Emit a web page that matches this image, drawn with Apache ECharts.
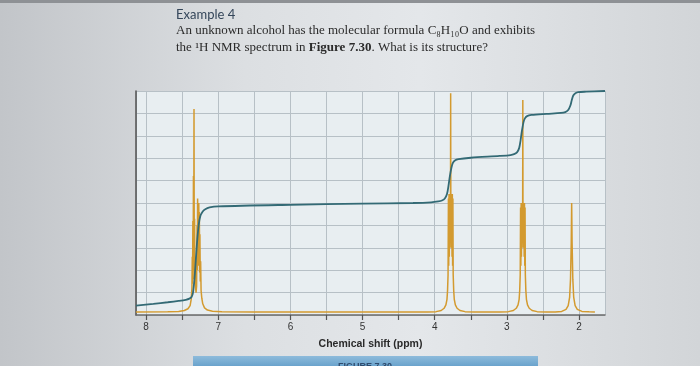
<!DOCTYPE html>
<html>
<head>
<meta charset="utf-8">
<script src="https://cdn.jsdelivr.net/npm/echarts@6/dist/echarts.min.js"></script>
<style>
  html, body { margin: 0; padding: 0; }
  #chart { width: 700px; height: 366px; }
</style>
</head>
<body>
<div id="chart"></div>
<script>
// ---- Data ----
const xRange = [1.64, 8.14];               // ppm shown (axis inverted)
const tickLabels = [8, 7, 6, 5, 4, 3, 2];  // labelled ticks

// 1H NMR spectrum trace [ppm, intensity]
const spectrum = [
  [8.14,0.13],[7.70,0.14],[7.55,0.16],[7.47,0.2],[7.42,0.28],[7.39,0.42],[7.375,0.7],[7.365,1.2],
  [7.360,2.6],[7.356,1.4],[7.352,4.2],[7.348,1.6],[7.344,6.2],[7.340,2.0],[7.336,9.2],
  [7.332,2.0],[7.328,4.3],[7.324,1.8],[7.320,2.6],[7.315,1.3],[7.308,1.0],[7.300,1.3],
  [7.294,4.0],[7.290,2.0],[7.286,5.2],[7.282,2.3],[7.278,4.4],[7.274,2.2],[7.270,5.0],
  [7.266,2.2],[7.262,4.6],[7.258,1.9],[7.254,3.6],[7.249,1.5],[7.244,2.4],[7.238,1.1],
  [7.228,0.75],[7.215,0.5],[7.19,0.32],[7.15,0.22],[7.08,0.17],[6.95,0.14],[6.5,0.13],
  [4.10,0.13],[3.98,0.15],[3.91,0.2],[3.87,0.3],[3.845,0.45],[3.83,0.7],[3.822,1.1],[3.815,1.8],
  [3.810,5.2],[3.806,2.2],[3.802,5.4],[3.798,2.6],[3.794,5.3],[3.790,3.0],[3.786,5.4],
  [3.782,3.2],[3.779,9.9],[3.776,3.2],[3.772,5.4],[3.768,3.0],[3.764,5.3],[3.760,2.6],
  [3.756,5.4],[3.752,2.2],[3.748,5.2],[3.744,1.8],[3.737,1.1],[3.729,0.7],[3.714,0.45],
  [3.69,0.3],[3.65,0.2],[3.58,0.15],[3.45,0.13],
  [3.10,0.13],[2.98,0.15],[2.91,0.2],[2.87,0.3],[2.845,0.45],[2.83,0.7],[2.822,1.1],[2.815,1.8],
  [2.810,4.8],[2.806,2.2],[2.802,5.0],[2.798,2.6],[2.794,4.9],[2.790,3.0],[2.786,5.0],
  [2.782,3.2],[2.779,9.6],[2.776,3.2],[2.772,5.0],[2.768,3.0],[2.764,4.9],[2.760,2.6],
  [2.756,5.0],[2.752,2.2],[2.748,4.8],[2.744,1.8],[2.737,1.1],[2.729,0.7],[2.714,0.45],
  [2.69,0.3],[2.65,0.2],[2.58,0.15],[2.45,0.13],
  [2.33,0.13],[2.24,0.16],[2.18,0.25],[2.15,0.42],[2.13,0.8],[2.118,1.6],[2.108,3.2],
  [2.102,5.0],[2.096,3.2],[2.086,1.6],[2.074,0.8],[2.054,0.42],[2.024,0.25],[1.96,0.16],
  [1.86,0.14],[1.78,0.13]
];

// Integration curve [ppm, value]
const integral = [
  [8.14,0.42],[7.90,0.5],[7.70,0.57],[7.55,0.63],[7.45,0.68],[7.40,0.73],[7.37,0.8],[7.35,1.0],
  [7.33,1.6],[7.31,2.5],[7.29,3.4],[7.27,4.05],[7.25,4.4],[7.22,4.6],[7.18,4.72],[7.12,4.8],
  [7.00,4.85],[6.00,4.92],[5.00,4.97],[4.30,5.0],[4.05,5.03],[3.95,5.07],[3.90,5.11],
  [3.86,5.2],[3.83,5.4],[3.81,5.75],[3.79,6.2],[3.77,6.55],[3.75,6.78],[3.72,6.9],
  [3.67,6.96],[3.50,7.02],[3.10,7.1],[2.95,7.14],[2.90,7.18],[2.86,7.26],[2.83,7.45],
  [2.81,7.8],[2.79,8.25],[2.77,8.6],[2.75,8.78],[2.72,8.88],[2.66,8.93],[2.45,8.98],
  [2.25,9.02],[2.19,9.06],[2.15,9.15],[2.12,9.35],[2.10,9.6],[2.08,9.8],[2.05,9.9],
  [2.01,9.95],[1.90,9.97],[1.64,10.0]
];

const chart = echarts.init(document.getElementById('chart'), null, { renderer: 'canvas' });

const option = {
  animation: false,
  backgroundColor: {
    type: 'linear', x: 0, y: 0, x2: 1, y2: 0,
    colorStops: [
      { offset: 0, color: '#c2c5c9' },
      { offset: 0.35, color: '#dcdfe2' },
      { offset: 0.6, color: '#e4e7ea' },
      { offset: 1, color: '#d2d5d8' }
    ]
  },
  graphic: [
    { type: 'rect', left: 0, top: 0, shape: { width: 700, height: 3 }, style: { fill: '#8e9195' }, silent: true },
    { type: 'text', left: 176, top: 8,
      style: { text: 'Example 4', font: '13px Lato, "Open Sans", sans-serif', fill: '#34465a' } },
    { type: 'text', left: 176, top: 24,
      style: { text: 'An unknown alcohol has the molecular formula C\u2088H\u2081\u2080O and exhibits',
               font: '13px "Liberation Serif", "DejaVu Serif", serif', fill: '#2b2b2b' } },
    { type: 'text', left: 176, top: 41,
      style: {
        text: '{n|the \u00b9H NMR spectrum in }{b|Figure 7.30}{n|. What is its structure?}',
        rich: {
          n: { font: '13px "Liberation Serif", "DejaVu Serif", serif', fill: '#2b2b2b' },
          b: { font: 'bold 13px "Liberation Serif", "DejaVu Serif", serif', fill: '#2b2b2b' }
        }
      } },
    { type: 'rect', left: 193, top: 356, shape: { width: 345, height: 10 },
      style: { fill: { type: 'linear', x: 0, y: 0, x2: 0, y2: 1,
        colorStops: [{ offset: 0, color: '#8dbbdb' }, { offset: 1, color: '#6aa3cc' }] } }, silent: true },
    { type: 'text', left: 338, top: 362,
      style: { text: 'FIGURE 7.30', font: 'bold 9px "Liberation Sans", sans-serif', fill: '#2e4b6e' } }
  ],
  grid: {
    left: 136, right: 95, top: 91, bottom: 51,
    show: true, backgroundColor: '#e8eef1', borderWidth: 0
  },
  xAxis: {
    type: 'value',
    inverse: true,
    min: xRange[0], max: xRange[1],
    splitNumber: 13,
    name: 'Chemical shift (ppm)',
    nameLocation: 'middle',
    nameGap: 24,
    nameTextStyle: { fontFamily: '"Liberation Sans", Arial, sans-serif', fontWeight: 'bold', fontSize: 10.5, color: '#2a2a2a' },
    axisLine: { show: true, onZero: false, lineStyle: { color: '#6b6b6b', width: 1.5 } },
    axisTick: { show: true, length: 5, lineStyle: { color: '#555', width: 1.2 } },
    axisLabel: {
      margin: 7,
      fontFamily: '"Liberation Sans", Arial, sans-serif', fontSize: 10, color: '#333',
      showMinLabel: false, showMaxLabel: false,
      formatter: function (v) {
        const r = Math.round(v);
        return (Math.abs(v - r) < 1e-6 && tickLabels.indexOf(r) >= 0) ? String(r) : '';
      }
    },
    splitLine: { show: true, lineStyle: { color: '#b7c0c6', width: 1 } }
  },
  yAxis: {
    type: 'value', min: 0, max: 10, interval: 1,
    axisLine: { show: true, lineStyle: { color: '#505050', width: 1.5 } },
    axisTick: { show: false },
    axisLabel: { show: false },
    splitLine: { show: true, lineStyle: { color: '#b7c0c6', width: 1 } }
  },
  series: [
    {
      name: 'spectrum', type: 'line', data: spectrum,
      showSymbol: false, smooth: false,
      lineStyle: { color: '#d39a2f', width: 1.5 },
      z: 3
    },
    {
      name: 'integral', type: 'line', data: integral,
      showSymbol: false, smooth: 0.3,
      lineStyle: { color: '#336a75', width: 1.8 },
      z: 4
    }
  ]
};

chart.setOption(option);
</script>
</body>
</html>
